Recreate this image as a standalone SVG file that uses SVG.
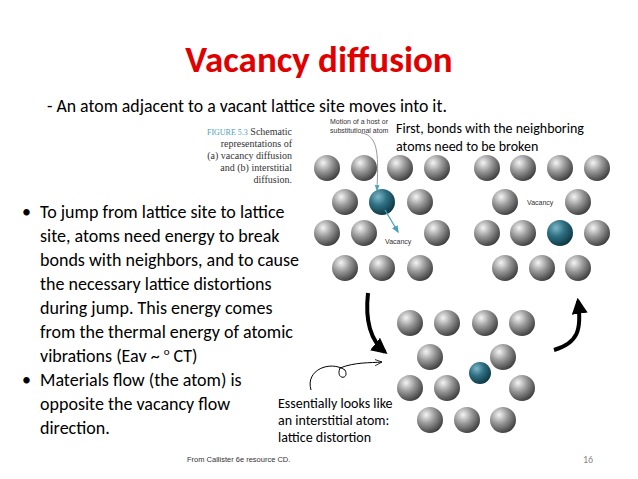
<svg xmlns="http://www.w3.org/2000/svg" width="638" height="479" viewBox="0 0 638 479">
<defs>
<radialGradient id="g" cx="0.35" cy="0.3" r="0.75"><stop offset="0" stop-color="#f4f4f4"/><stop offset="0.45" stop-color="#9a9a9a"/><stop offset="1" stop-color="#3a3a3a"/></radialGradient>
<radialGradient id="b" cx="0.35" cy="0.3" r="0.75"><stop offset="0" stop-color="#7fb8c8"/><stop offset="0.45" stop-color="#2e6f82"/><stop offset="1" stop-color="#0d3440"/></radialGradient>
<marker id="ah" viewBox="0 0 10 10" refX="8" refY="5" markerWidth="4" markerHeight="4" orient="auto"><path d="M0,0 L10,5 L0,10 z" fill="#000"/></marker>
<marker id="ta" viewBox="0 0 10 10" refX="8" refY="5" markerWidth="6" markerHeight="6" orient="auto"><path d="M0,1 L10,5 L0,9 z" fill="#4aa3b8"/></marker>
<marker id="oa" viewBox="0 0 10 10" refX="9" refY="5" markerWidth="8" markerHeight="8" orient="auto"><path d="M0,1 L9,5 L0,9" fill="none" stroke="#000" stroke-width="1"/></marker>
</defs>
<style>
.a{fill:url(#g)} .c{fill:url(#b)}
.t{font-family:Calibri,Carlito,"Liberation Sans",sans-serif}
.s{font-family:"Liberation Sans",sans-serif}
.f{font-family:"Liberation Serif",serif;font-size:10px;fill:#333;text-anchor:end}
</style>
<text class="t" x="319" y="72" font-size="37" font-weight="bold" fill="#e00000" text-anchor="middle">Vacancy diffusion</text>
<text class="t" x="47" y="112" font-size="17.8">- An atom adjacent to a vacant lattice site moves into it.</text>
<g class="f"><text x="292" y="135"><tspan fill="#4aa3b8" font-size="8">FIGURE 5.3</tspan>  Schematic</text><text x="292" y="147">representations of</text><text x="292" y="159">(a) vacancy diffusion</text><text x="292" y="171">and (b) interstitial</text><text x="292" y="183">diffusion.</text></g>
<g class="t" font-size="18"><text x="22" y="218">•</text><text x="40" y="218">To jump from lattice site to lattice</text><text x="40" y="242">site, atoms need energy to break</text><text x="40" y="266">bonds with neighbors, and to cause</text><text x="40" y="290">the necessary lattice distortions</text><text x="40" y="314">during jump. This energy comes</text><text x="40" y="338">from the thermal energy of atomic</text><text x="40" y="362">vibrations (Eav ~ <tspan font-size="11" dy="-7">o</tspan><tspan dy="7"> CT)</tspan></text><text x="22" y="386">•</text><text x="40" y="386">Materials flow (the atom) is</text><text x="40" y="410">opposite the vacancy flow</text><text x="40" y="434">direction.</text></g>
<g class="s" font-size="7" fill="#333"><text x="330" y="124">Motion of a host or</text><text x="330" y="133">substitutional atom</text><text x="385" y="244">Vacancy</text><text x="527" y="205">Vacancy</text></g>
<g class="t" font-size="14"><text x="396" y="133">First, bonds with the neighboring</text><text x="396" y="151">atoms need to be broken</text><text x="278" y="408">Essentially looks like</text><text x="278" y="425">an interstitial atom:</text><text x="278" y="442">lattice distortion</text></g>
<text class="s" x="187" y="462" font-size="7.5" fill="#333">From Callister 6e resource CD.</text>
<text class="t" x="583" y="463" font-size="10" fill="#888">16</text>
<g id="lattice-a">
<circle class="a" cx="327" cy="168" r="13"/><circle class="a" cx="364" cy="168" r="13"/><circle class="a" cx="400" cy="168" r="13"/><circle class="a" cx="437" cy="168" r="13"/>
<circle class="a" cx="345" cy="202" r="13"/><circle class="c" cx="382" cy="202" r="13"/><circle class="a" cx="420" cy="202" r="13"/>
<circle class="a" cx="327" cy="233" r="13"/><circle class="a" cx="364" cy="233" r="13"/><circle class="a" cx="437" cy="233" r="13"/>
<circle class="a" cx="345" cy="268" r="13"/><circle class="a" cx="382" cy="268" r="13"/><circle class="a" cx="420" cy="268" r="13"/>
</g>
<g id="lattice-b">
<circle class="a" cx="487" cy="168" r="13"/><circle class="a" cx="523" cy="168" r="13"/><circle class="a" cx="560" cy="168" r="13"/><circle class="a" cx="597" cy="168" r="13"/>
<circle class="a" cx="505" cy="202" r="13"/><circle class="a" cx="578" cy="202" r="13"/>
<circle class="a" cx="487" cy="233" r="13"/><circle class="a" cx="523" cy="233" r="13"/><circle class="c" cx="560" cy="233" r="13"/><circle class="a" cx="597" cy="233" r="13"/>
<circle class="a" cx="505" cy="268" r="13"/><circle class="a" cx="542" cy="268" r="13"/><circle class="a" cx="578" cy="268" r="13"/>
</g>
<g id="lattice-c">
<circle class="a" cx="410" cy="323" r="13"/><circle class="a" cx="447" cy="323" r="13"/><circle class="a" cx="485" cy="323" r="13"/><circle class="a" cx="522" cy="323" r="13"/>
<circle class="a" cx="430" cy="357" r="13"/><circle class="a" cx="503" cy="357" r="13"/>
<circle class="c" cx="480" cy="373" r="11"/>
<circle class="a" cx="410" cy="388" r="13"/><circle class="a" cx="447" cy="388" r="13"/><circle class="a" cx="522" cy="388" r="13"/>
<circle class="a" cx="430" cy="420" r="13"/><circle class="a" cx="467" cy="420" r="13"/><circle class="a" cx="503" cy="420" r="13"/>
</g>
<g id="connectors" fill="none">
<path d="M361,133 C380,135 378,160 377,190" stroke="#999" stroke-width="1" marker-end="url(#ta)"/>
<path d="M385,210 L398,232" stroke="#4aa3b8" stroke-width="1.3" marker-end="url(#ta)"/>
<path d="M368,293 C365,320 370,340 385,352" stroke="#000" stroke-width="4" marker-end="url(#ah)"/>
<path d="M554,350 C578,343 582,330 578,301" stroke="#000" stroke-width="4" marker-end="url(#ah)"/>
<path d="M311,390 C305,370 330,360 345,370 C350,380 335,380 340,368 C355,362 370,363 382,362" stroke="#000" stroke-width="1" marker-end="url(#oa)"/>
</g>
</svg>
